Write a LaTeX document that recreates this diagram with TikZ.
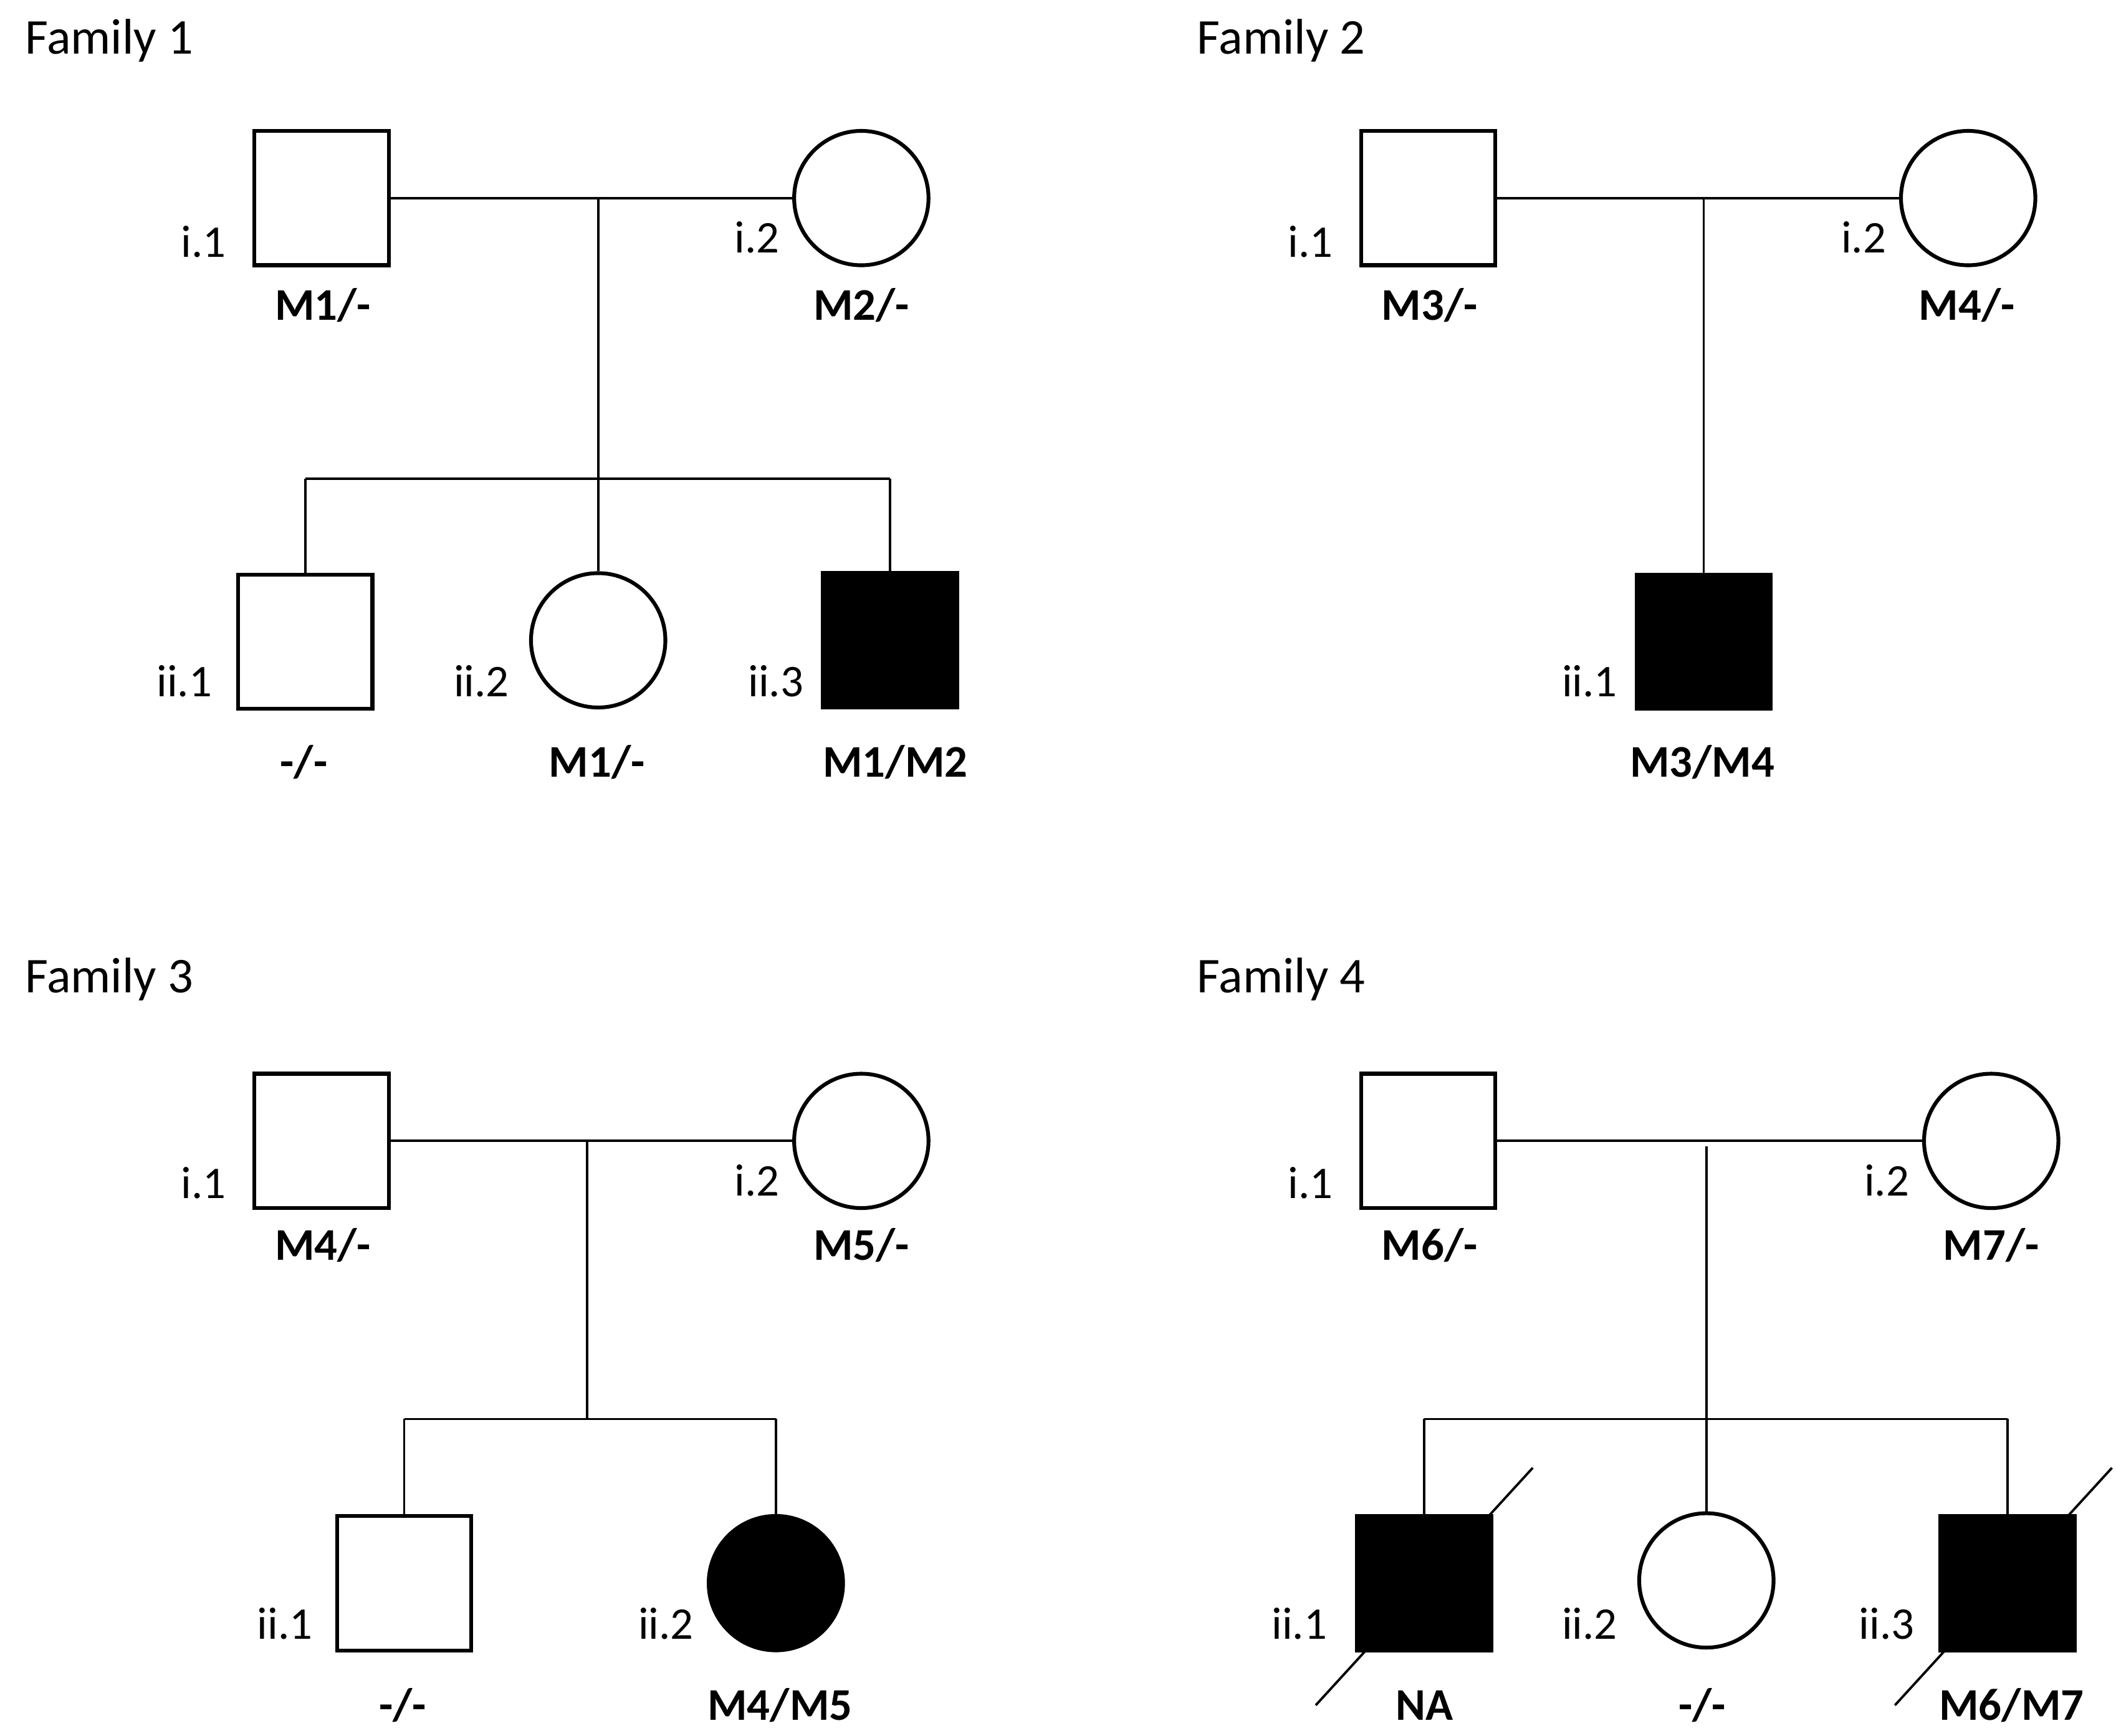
\documentclass[tikz,border=0pt]{standalone}
\usepackage{fontspec}
\setmainfont{Carlito}
\newcommand{\drawmale}{\node[draw,rectangle,line width=0.8pt,minimum size=0.99cm]}
\newcommand{\drawfemale}{\node[draw,circle,line width=0.8pt,minimum size=0.99cm]}
\newcommand{\drawmalefill}{\node[draw,fill=black,rectangle,line width=0.8pt,minimum size=0.99cm]}
\newcommand{\drawfemalefill}{\node[draw,fill=black,circle,line width=0.8pt,minimum size=0.99cm]}
\newcommand{\drawid}{\node[font=\fontsize{9.5}{11}\selectfont]}
\newcommand{\drawgeno}{\node[font=\fontsize{9.5}{11}\selectfont\bfseries]}
\newcommand{\drawtitle}{\node[anchor=west,font=\fontsize{10.5}{12}\selectfont]}

\begin{document}
\begin{tikzpicture}[x=0.01cm,y=-0.01cm,line width=0.5pt]
\useasboundingbox (0,0) rectangle (1560,1279.3);

%Family 1
\drawtitle (t1) at (6,30) {Family 1};
\drawmale (f1a) at (237,146) {};
\drawfemale (f1b) at (635,146) {};
\coordinate (f1m) at (441,146);
\coordinate (f1s) at (441,353);
\drawmale (f1c) at (225,473) {};
\drawfemale (f1d) at (441,472) {};
\drawmalefill (f1e) at (656,472) {};
\drawid (f1ia) at (150,178) {i.1};
\drawid (f1ib) at (558,175) {i.2};
\drawid (f1ic) at (136,502) {ii.1};
\drawid (f1id) at (355,502) {ii.2};
\drawid (f1ie) at (572,502) {ii.3};
\drawgeno (f1ga) at (238,225) {M1/-};
\drawgeno (f1gb) at (635,225) {M2/-};
\drawgeno (f1gc) at (224,562) {-/-};
\drawgeno (f1gd) at (440,562) {M1/-};
\drawgeno (f1ge) at (660,562) {M1/M2};
\draw (f1a.east) -- (f1b.west);
\draw (f1m) -- (f1d.north);
\draw (f1c.north |- f1s) -- (f1e.north |- f1s);
\draw (f1c.north |- f1s) -- (f1c.north);
\draw (f1e.north |- f1s) -- (f1e.north);

%Family 2
\drawtitle (t2) at (870,30) {Family 2};
\drawmale (f2a) at (1053,146) {};
\drawfemale (f2b) at (1451,146) {};
\coordinate (f2m) at (1256,146);
\drawmalefill (f2c) at (1256,473) {};
\drawid (f2ia) at (966,178) {i.1};
\drawid (f2ib) at (1374,175) {i.2};
\drawid (f2ic) at (1172,502) {ii.1};
\drawgeno (f2ga) at (1054,225) {M3/-};
\drawgeno (f2gb) at (1450,225) {M4/-};
\drawgeno (f2gc) at (1255,562) {M3/M4};
\draw (f2a.east) -- (f2b.west);
\draw (f2m) -- (f2c.north);

%Family 3
\drawtitle (t3) at (6,722) {Family 3};
\drawmale (f3a) at (237,841) {};
\drawfemale (f3b) at (635,841) {};
\coordinate (f3m) at (433,841);
\coordinate (f3s) at (433,1046);
\drawmale (f3c) at (298,1167) {};
\drawfemalefill (f3d) at (572,1167) {};
\drawid (f3ia) at (150,872) {i.1};
\drawid (f3ib) at (558,870) {i.2};
\drawid (f3ic) at (210,1197) {ii.1};
\drawid (f3id) at (491,1197) {ii.2};
\drawgeno (f3ga) at (238,918) {M4/-};
\drawgeno (f3gb) at (635,918) {M5/-};
\drawgeno (f3gc) at (297,1257) {-/-};
\drawgeno (f3gd) at (575,1257) {M4/M5};
\draw (f3a.east) -- (f3b.west);
\draw (f3m) -- (f3s);
\draw (f3c.north |- f3s) -- (f3d.north |- f3s);
\draw (f3c.north |- f3s) -- (f3c.north);
\draw (f3d.north |- f3s) -- (f3d.north);

%Family 4
\drawtitle (t4) at (870,722) {Family 4};
\drawmale (f4a) at (1053,841) {};
\drawfemale (f4b) at (1468,841) {};
\coordinate (f4m) at (1258,845);
\coordinate (f4s) at (1258,1046);
\drawmalefill (f4c) at (1050,1167) {};
\drawfemale (f4d) at (1258,1165) {};
\drawmalefill (f4e) at (1480,1167) {};
\coordinate (f4c1) at (970,1257);
\coordinate (f4c2) at (1130,1082);
\coordinate (f4e1) at (1397,1257);
\coordinate (f4e2) at (1557,1082);
\drawid (f4ia) at (966,872) {i.1};
\drawid (f4ib) at (1391,870) {i.2};
\drawid (f4ic) at (958,1197) {ii.1};
\drawid (f4id) at (1172,1197) {ii.2};
\drawid (f4ie) at (1391,1197) {ii.3};
\drawgeno (f4ga) at (1054,918) {M6/-};
\drawgeno (f4gb) at (1468,918) {M7/-};
\drawgeno (f4gc) at (1050,1257) {NA};
\drawgeno (f4gd) at (1255,1257) {-/-};
\drawgeno (f4ge) at (1483,1257) {M6/M7};
\draw (f4a.east) -- (f4b.west);
\draw (f4m) -- (f4d.north);
\draw (f4c.north |- f4s) -- (f4e.north |- f4s);
\draw (f4c.north |- f4s) -- (f4c.north);
\draw (f4e.north |- f4s) -- (f4e.north);
\draw (f4c1) -- (f4c2);
\draw (f4e1) -- (f4e2);
\end{tikzpicture}
\end{document}
